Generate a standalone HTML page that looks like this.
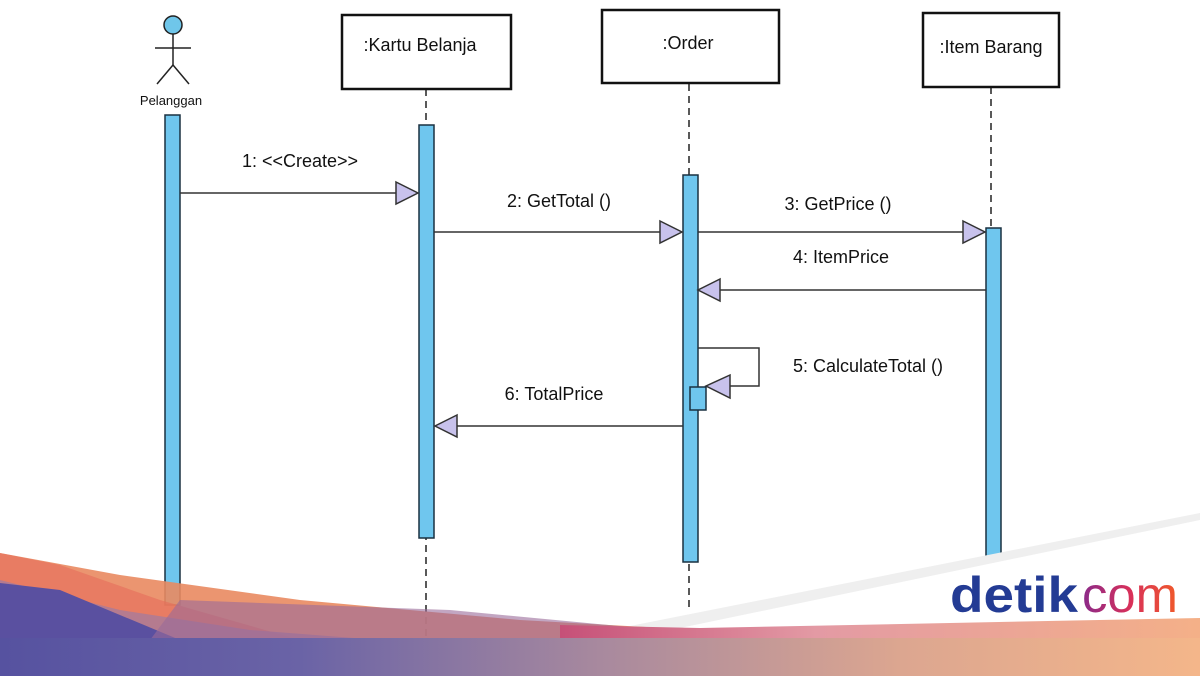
<!DOCTYPE html>
<html><head><meta charset="utf-8"><style>
html,body{margin:0;padding:0;background:#fff;}
svg{display:block;}
text{font-family:"Liberation Sans",sans-serif;fill:#111;}
</style></head><body>
<svg width="1200" height="676" viewBox="0 0 1200 676" xmlns="http://www.w3.org/2000/svg">
<defs>
<linearGradient id="bar" x1="0" x2="1" y1="0" y2="0">
<stop offset="0" stop-color="#5652a0"/><stop offset="0.25" stop-color="#6a63a6"/>
<stop offset="0.5" stop-color="#a8899e"/><stop offset="0.75" stop-color="#dca690"/>
<stop offset="1" stop-color="#f4b68a"/></linearGradient>
<linearGradient id="com" x1="0" x2="1"><stop offset="0" stop-color="#8a2a8a"/><stop offset="0.5" stop-color="#d8305a"/><stop offset="1" stop-color="#f05a2a"/></linearGradient>
<linearGradient id="rband" x1="0" x2="1"><stop offset="0" stop-color="#c65078"/><stop offset="0.4" stop-color="#e39aa4"/><stop offset="1" stop-color="#f4b088"/></linearGradient>
</defs>
<g stroke="#222" stroke-width="1.5" fill="none">
<line x1="426" y1="89" x2="426" y2="636" stroke-dasharray="7,5"/>
<line x1="689" y1="84" x2="689" y2="610" stroke-dasharray="7,5"/>
<line x1="991" y1="87" x2="991" y2="560" stroke-dasharray="7,5"/>
<circle cx="173" cy="25" r="9" fill="#6fc6ea"/>
<line x1="173" y1="34" x2="173" y2="65"/>
<line x1="155" y1="48" x2="191" y2="48"/>
<line x1="173" y1="65" x2="157" y2="84"/>
<line x1="173" y1="65" x2="189" y2="84"/>
</g>
<g stroke="#111" stroke-width="2.5" fill="#fff">
<rect x="342" y="15" width="169" height="74"/>
<rect x="602" y="10" width="177" height="73"/>
<rect x="923" y="13" width="136" height="74"/>
</g>
<text x="420" y="51" font-size="18" text-anchor="middle">:Kartu Belanja</text>
<text x="688" y="49" font-size="18" text-anchor="middle">:Order</text>
<text x="991" y="53" font-size="18" text-anchor="middle">:Item Barang</text>
<text x="171" y="105" font-size="13" text-anchor="middle">Pelanggan</text>
<g stroke="#1a3040" stroke-width="1.5" fill="#6fc6ee">
<rect x="165" y="115" width="15" height="490"/>
<rect x="419" y="125" width="15" height="413"/>
<rect x="683" y="175" width="15" height="387"/>
<rect x="986" y="228" width="15" height="330"/>
</g>
<g stroke="#333" stroke-width="1.5" fill="none">
<line x1="180" y1="193" x2="397" y2="193"/>
<line x1="434" y1="232" x2="661" y2="232"/>
<line x1="698" y1="232" x2="964" y2="232"/>
<line x1="986" y1="290" x2="720" y2="290"/>
<polyline points="698,348 759,348 759,386 728,386"/>
<line x1="683" y1="426" x2="456" y2="426"/>
</g>
<g stroke="#333" stroke-width="1.5" fill="#c8c2ec">
<polygon points="396,182 418,193 396,204"/>
<polygon points="660,221 682,232 660,243"/>
<polygon points="963,221 985,232 963,243"/>
<polygon points="720,279 698,290 720,301"/>
<polygon points="730,375 706,386 730,398"/>
<polygon points="457,415 435,426 457,437"/>
</g>
<rect x="690" y="387" width="16" height="23" fill="#6fc6ee" stroke="#1a3040" stroke-width="1.5"/>
<g font-size="18">
<text x="300" y="167" text-anchor="middle">1: &lt;&lt;Create&gt;&gt;</text>
<text x="559" y="207" text-anchor="middle">2: GetTotal ()</text>
<text x="838" y="210" text-anchor="middle">3: GetPrice ()</text>
<text x="841" y="263" text-anchor="middle">4: ItemPrice</text>
<text x="868" y="372" text-anchor="middle">5: CalculateTotal ()</text>
<text x="554" y="400" text-anchor="middle">6: TotalPrice</text>
</g>
<polygon points="620,628 1200,513 1200,520 680,628" fill="#efefef"/>
<polygon points="0,553 120,575 300,600 520,620 700,630 620,640 0,640" fill="#e98a60" opacity="0.9"/>
<polygon points="0,553 60,565 160,600 300,640 0,640" fill="#e66c5a" opacity="0.6"/>
<polygon points="0,580 120,610 250,630 380,640 0,640" fill="#a87a9a" opacity="0.8"/>
<polygon points="0,583 60,590 180,640 0,640" fill="#5a50a0"/>
<polygon points="180,600 450,610 640,628 800,630 700,640 150,640" fill="#9a6a9a" opacity="0.6"/>
<polygon points="560,625 700,628 1200,618 1200,640 560,640" fill="url(#rband)"/>
<rect x="0" y="638" width="1200" height="38" fill="url(#bar)"/>
<text x="950" y="612" font-size="50" font-weight="bold" textLength="128" lengthAdjust="spacingAndGlyphs" style="fill:#233b94">detik</text>
<text x="1082" y="612" font-size="50" textLength="96" lengthAdjust="spacingAndGlyphs" style="fill:url(#com)">com</text>
</svg>
</body></html>
